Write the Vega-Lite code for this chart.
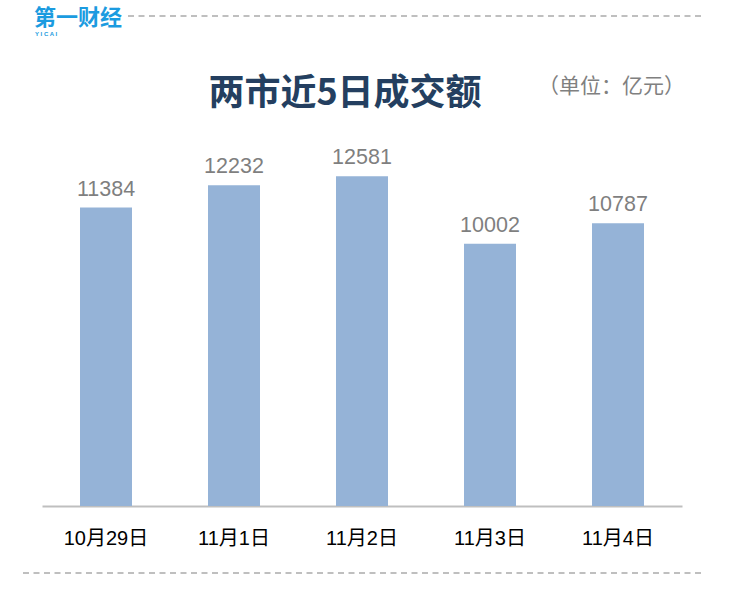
{
  "$schema": "https://vega.github.io/schema/vega-lite/v6.json",
  "width": 640,
  "height": 367,
  "autosize": "none",
  "padding": {"left": 42, "top": 139, "right": 54, "bottom": 88},
  "background": "white",
  "config": {"view": {"stroke": null}},
  "datasets": {
    "bars": [
      {"date": "10月29日", "value": 11384},
      {"date": "11月1日", "value": 12232},
      {"date": "11月2日", "value": 12581},
      {"date": "11月3日", "value": 10002},
      {"date": "11月4日", "value": 10787}
    ]
  },
  "layer": [
    {
      "data": {"name": "bars"},
      "mark": {"type": "bar", "color": "#95B3D7", "width": 52},
      "encoding": {
        "x": {
          "field": "date", "type": "nominal", "sort": null,
          "scale": {"paddingInner": 0, "paddingOuter": 0},
          "axis": {
            "title": null, "labelAngle": 0, "ticks": false,
            "domainColor": "#BFBFBF", "domainWidth": 2,
            "labelFont": "Liberation Sans, Noto Sans CJK SC",
            "labelFontSize": 20, "labelColor": "#000000",
            "labelPadding": 22
          }
        },
        "y": {
          "field": "value", "type": "quantitative",
          "scale": {"domain": [0, 14000]},
          "axis": null
        }
      }
    },
    {
      "data": {"name": "bars"},
      "mark": {"type": "text", "font": "Liberation Sans", "fontSize": 21.5, "color": "#7F7F7F", "baseline": "alphabetic", "dy": -12},
      "encoding": {
        "x": {"field": "date", "type": "nominal", "sort": null},
        "y": {"field": "value", "type": "quantitative"},
        "text": {"field": "value", "type": "quantitative", "format": "d"}
      }
    },
    {
      "data": {"values": [{"t": "两市近5日成交额"}]},
      "mark": {"type": "text", "font": "Noto Sans CJK SC", "fontSize": 36, "fontWeight": "bold", "color": "#243F60", "align": "center", "baseline": "middle"},
      "encoding": {"text": {"field": "t"}, "x": {"value": 303}, "y": {"value": -45}}
    },
    {
      "data": {"values": [{"t": "（单位：亿元）"}]},
      "mark": {"type": "text", "font": "Noto Sans CJK SC", "fontSize": 21, "color": "#808080", "align": "right", "baseline": "middle"},
      "encoding": {"text": {"field": "t"}, "x": {"value": 643}, "y": {"value": -52}}
    },
    {
      "data": {"values": [{"t": "第一财经"}]},
      "mark": {"type": "text", "font": "Noto Sans CJK SC", "fontSize": 22, "fontWeight": "bold", "color": "#1B9BE0", "align": "left", "baseline": "middle"},
      "encoding": {"text": {"field": "t"}, "x": {"value": -8}, "y": {"value": -121}}
    },
    {
      "data": {"values": [{"t": "Y   I   C   A   I"}]},
      "mark": {"type": "text", "font": "Liberation Sans", "fontSize": 6, "fontWeight": "bold", "color": "#1B9BE0", "align": "left", "baseline": "middle"},
      "encoding": {"text": {"field": "t"}, "x": {"value": -7}, "y": {"value": -105}}
    },
    {
      "data": {"values": [{"k": "top"}]},
      "mark": {"type": "rule", "color": "#BFBFBF", "strokeWidth": 2, "strokeDash": [6, 4.5]},
      "encoding": {"x": {"value": 86}, "x2": {"value": 663}, "y": {"value": -123}}
    },
    {
      "data": {"values": [{"k": "bottom"}]},
      "mark": {"type": "rule", "color": "#BFBFBF", "strokeWidth": 2, "strokeDash": [6, 4.5]},
      "encoding": {"x": {"value": -19}, "x2": {"value": 663}, "y": {"value": 434}}
    }
  ]
}
